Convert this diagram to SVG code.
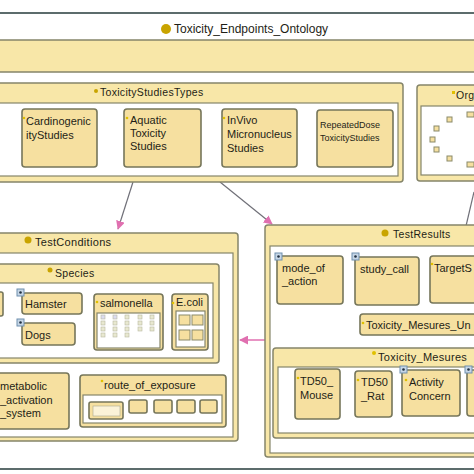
<svg xmlns="http://www.w3.org/2000/svg" width="474" height="474" viewBox="0 0 474 474">
<style>
text{font-family:"Liberation Sans",Arial,sans-serif;fill:#1e1e16;font-size:11px}
.hd{font-size:10.5px;letter-spacing:0.3px}
.outer{fill:#f8e7a8;stroke:#85856a;stroke-width:1.5}
.inner{fill:#ffffff;stroke:#85856a;stroke-width:1.2}
.box{fill:#f6e0a0;stroke:#76765a;stroke-width:1.6}
.sq{fill:#f6e0a0;stroke:#8a8a6a;stroke-width:1}
.dot{fill:#c9a400}
.mk{fill:#e0c000}
.ic{fill:#c6d6e6;stroke:#6f8fae;stroke-width:1}
.icd{fill:#203040}
.conn{stroke:#707078;stroke-width:1.2;fill:none}
.pink{stroke:#e070b0;stroke-width:1.5;fill:none}
.sm{font-size:9px}
</style>
<defs>
<marker id="ah" viewBox="0 0 10 10" refX="9" refY="5" markerWidth="9" markerHeight="9" orient="auto" markerUnits="userSpaceOnUse">
<path d="M0,0 L10,5 L0,10 z" fill="#e070b0"/>
</marker>
</defs>
<rect width="474" height="474" fill="#ffffff"/>
<line x1="0" y1="13" x2="474" y2="13" stroke="#5c6c6c" stroke-width="2"/>
<line x1="0" y1="469" x2="474" y2="469" stroke="#5c6c6c" stroke-width="2"/>

<g id="ontology">
<circle class="dot" cx="166" cy="29" r="5"/>
<text x="174" y="33" style="font-size:12px">Toxicity_Endpoints_Ontology</text>
<rect class="outer" x="-2" y="40" width="478" height="32"/>
</g>

<g id="connectors">
<line class="conn" x1="133" y1="182" x2="118" y2="229" marker-end="url(#ah)"/>
<line class="conn" x1="220" y1="182" x2="272" y2="224" marker-end="url(#ah)"/>
<line class="conn" x1="474" y1="192" x2="466" y2="226"/>
<line class="pink" x1="265" y1="340" x2="240" y2="340" marker-end="url(#ah)"/>
</g>

<g id="ToxicityStudiesTypes">
<rect class="outer" x="-5" y="83" width="408" height="99" rx="3"/>
<rect class="inner" x="-5" y="103" width="403" height="73"/>
<circle class="dot" cx="96" cy="91" r="2"/>
<text class="hd" x="100" y="96">ToxicityStudiesTypes</text>
</g>
<g id="CardinogenicityStudies">
<rect class="box" x="22" y="109" width="75" height="58" rx="3"/>
<circle class="mk" cx="24" cy="118" r="1.3"/>
<text x="26" y="125">Cardinogenic</text><text x="26" y="139">ityStudies</text>
</g>
<g id="AquaticToxicityStudies">
<rect class="box" x="124" y="109" width="77" height="58" rx="3"/>
<circle class="mk" cx="127" cy="118" r="1.3"/>
<text x="130" y="124">Aquatic</text><text x="130" y="137">Toxicity</text><text x="130" y="150">Studies</text>
</g>
<g id="InVivoMicronucleusStudies">
<rect class="box" x="222" y="109" width="75" height="58" rx="3"/>
<circle class="mk" cx="224" cy="118" r="1.3"/>
<text x="227" y="124">InVivo</text><text x="227" y="138">Micronucleus</text><text x="227" y="152">Studies</text>
</g>
<g id="RepeatedDoseToxicityStudies">
<rect class="box" x="317" y="110" width="76" height="57" rx="3"/>
<text class="sm" x="320" y="128">RepeatedDose</text><text class="sm" x="320" y="141">ToxicityStudies</text>
</g>

<g id="Org">
<rect class="outer" x="417" y="85" width="70" height="96" rx="3"/>
<rect class="inner" x="421" y="106" width="66" height="69"/>
<rect x="452" y="91" width="3" height="3" fill="#e0c000"/>
<text class="hd" x="456" y="99">Org</text>
<rect class="sq" x="447" y="117" width="5" height="5"/>
<rect class="sq" x="434" y="126" width="5" height="5"/>
<rect class="sq" x="430" y="137" width="5" height="5"/>
<rect class="sq" x="434" y="147" width="5" height="5"/>
<rect class="sq" x="447" y="156" width="5" height="5"/>
<rect class="sq" x="467" y="112" width="7" height="5"/>
<rect class="sq" x="467" y="162" width="7" height="5"/>
</g>

<g id="TestConditions">
<rect class="outer" x="-5" y="233" width="243" height="208" rx="3"/>
<rect class="inner" x="-5" y="253" width="238" height="184"/>
<circle class="dot" cx="28" cy="240" r="3.5"/>
<text class="hd" x="35" y="246" style="font-size:11px">TestConditions</text>
</g>
<g id="Species">
<rect class="outer" x="-5" y="264" width="224" height="99" rx="3"/>
<rect class="inner" x="-5" y="283" width="218" height="75"/>
<circle class="dot" cx="50" cy="270" r="2.5"/>
<text class="hd" x="55" y="277">Species</text>
</g>
<g id="SpeciesPartial">
<rect class="box" x="-6" y="292" width="9" height="24" rx="2"/>
</g>
<g id="Hamster">
<rect class="box" x="22" y="293" width="60" height="21" rx="3"/>
<rect class="ic" x="17" y="289" width="7" height="7"/><circle class="icd" cx="20.5" cy="292.5" r="1.3"/>
<text x="25" y="308">Hamster</text>
</g>
<g id="Dogs">
<rect class="box" x="22" y="323" width="53" height="22" rx="3"/>
<rect class="ic" x="17" y="319" width="7" height="7"/><circle class="icd" cx="20.5" cy="322.5" r="1.3"/>
<text x="25" y="339">Dogs</text>
</g>
<g id="salmonella">
<rect class="box" x="94" y="294" width="69" height="56" rx="3"/>
<rect class="inner" x="97" y="313" width="63" height="35"/>
<circle class="mk" cx="97" cy="302" r="1.3"/>
<text x="100" y="307">salmonella</text>
<g fill="#e8e8d0" stroke="#b8b8a0" stroke-width="0.6">
<rect x="101" y="315" width="4" height="4" fill="#dcdcf0"/><rect x="113" y="315" width="4" height="4" fill="#dcdcf0"/><rect x="125" y="315" width="4" height="4"/><rect x="138" y="315" width="4" height="4"/><rect x="150" y="315" width="4" height="4"/>
<rect x="101" y="321" width="4" height="4"/><rect x="113" y="321" width="4" height="4"/><rect x="125" y="321" width="4" height="4"/><rect x="138" y="321" width="4" height="4"/><rect x="150" y="321" width="4" height="4"/>
<rect x="101" y="327" width="4" height="4"/><rect x="113" y="327" width="4" height="4"/><rect x="125" y="327" width="4" height="4"/><rect x="138" y="327" width="4" height="4"/><rect x="150" y="327" width="4" height="4"/>
<rect x="101" y="333" width="4" height="4"/><rect x="113" y="333" width="4" height="4"/><rect x="125" y="333" width="4" height="4"/>
</g>
</g>
<g id="Ecoli">
<rect class="box" x="172" y="294" width="36" height="56" rx="3"/>
<rect class="inner" x="176" y="311" width="29" height="36"/>
<circle class="mk" cx="173" cy="303" r="1.3"/>
<text x="176" y="306">E.coli</text>
<rect class="sq" x="179" y="315" width="11" height="10"/><rect class="sq" x="192" y="315" width="11" height="10"/>
<rect class="sq" x="179" y="330" width="11" height="10"/><rect class="sq" x="192" y="330" width="11" height="10"/>
</g>
<g id="metabolic_activation_system">
<rect class="box" x="-6" y="373" width="75" height="56" rx="3"/>
<text x="0" y="390">metabolic</text><text x="0" y="404">_activation</text><text x="0" y="417">_system</text>
</g>
<g id="route_of_exposure">
<rect class="box" x="80" y="375" width="146" height="52" rx="3"/>
<rect class="inner" x="83" y="395" width="139" height="28"/>
<circle class="mk" cx="102" cy="381" r="1.3"/>
<text x="104" y="389">route_of_exposure</text>
<rect class="box" x="89" y="402" width="34" height="17" rx="2"/>
<rect x="93" y="406" width="27" height="10" fill="#fbf3d8" stroke="#a8a890" stroke-width="0.6"/>
<rect class="box" x="129" y="400" width="18" height="13" rx="2"/>
<rect class="box" x="154" y="400" width="18" height="13" rx="2"/>
<rect class="box" x="177" y="400" width="18" height="13" rx="2"/>
<rect class="box" x="200" y="400" width="17" height="13" rx="2"/>
</g>

<g id="TestResults">
<rect class="outer" x="265" y="225" width="220" height="232" rx="3"/>
<rect class="inner" x="270" y="246" width="215" height="207"/>
<circle class="dot" cx="385" cy="233" r="3.5"/>
<text class="hd" x="393" y="238">TestResults</text>
</g>
<g id="mode_of_action">
<rect class="box" x="277" y="256" width="66" height="48" rx="3"/>
<rect class="ic" x="275" y="253" width="7" height="7"/><circle class="icd" cx="278.5" cy="256.5" r="1.3"/>
<text x="282" y="272">mode_of</text><text x="282" y="285">_action</text>
</g>
<g id="study_call">
<rect class="box" x="355" y="257" width="64" height="48" rx="3"/>
<rect class="ic" x="352" y="253" width="7" height="7"/><circle class="icd" cx="355.5" cy="256.5" r="1.3"/>
<text x="360" y="273">study_call</text>
</g>
<g id="TargetS">
<rect class="box" x="430" y="256" width="55" height="47" rx="3"/>
<circle class="mk" cx="432" cy="264" r="1.3"/>
<text x="434" y="272">TargetS</text>
</g>
<g id="Toxicity_Mesures_Un">
<rect class="box" x="360" y="314" width="125" height="21" rx="3"/>
<circle class="mk" cx="363" cy="323" r="1.3"/>
<text x="366" y="329">Toxicity_Mesures_Un</text>
</g>
<g id="Toxicity_Mesures">
<rect class="outer" x="273" y="348" width="212" height="90" rx="3"/>
<rect class="inner" x="278" y="367" width="207" height="66"/>
<circle class="mk" cx="374" cy="353" r="2"/>
<text class="hd" x="378" y="361" style="font-size:11px">Toxicity_Mesures</text>
</g>
<g id="TD50_Mouse">
<rect class="box" x="295" y="369" width="45" height="50" rx="3"/>
<circle class="mk" cx="298" cy="378" r="1.3"/>
<text x="300" y="385">TD50_</text><text x="300" y="399">Mouse</text>
</g>
<g id="TD50_Rat">
<rect class="box" x="355" y="371" width="37" height="46" rx="3"/>
<circle class="mk" cx="358" cy="380" r="1.3"/>
<text x="361" y="386">TD50</text><text x="361" y="400">_Rat</text>
</g>
<g id="ActivityConcern">
<rect class="box" x="402" y="370" width="58" height="46" rx="3"/>
<rect class="ic" x="400" y="366" width="7" height="7"/><circle class="icd" cx="403.5" cy="369.5" r="1.3"/>
<circle class="mk" cx="406" cy="380" r="1.3"/>
<text x="409" y="386">Activity</text><text x="409" y="400">Concern</text>
</g>
<g id="MesuresPartial">
<rect class="box" x="467" y="370" width="20" height="46" rx="3"/>
<rect class="ic" x="465" y="366" width="7" height="7"/><circle class="icd" cx="468.5" cy="369.5" r="1.3"/>
</g>
</svg>
